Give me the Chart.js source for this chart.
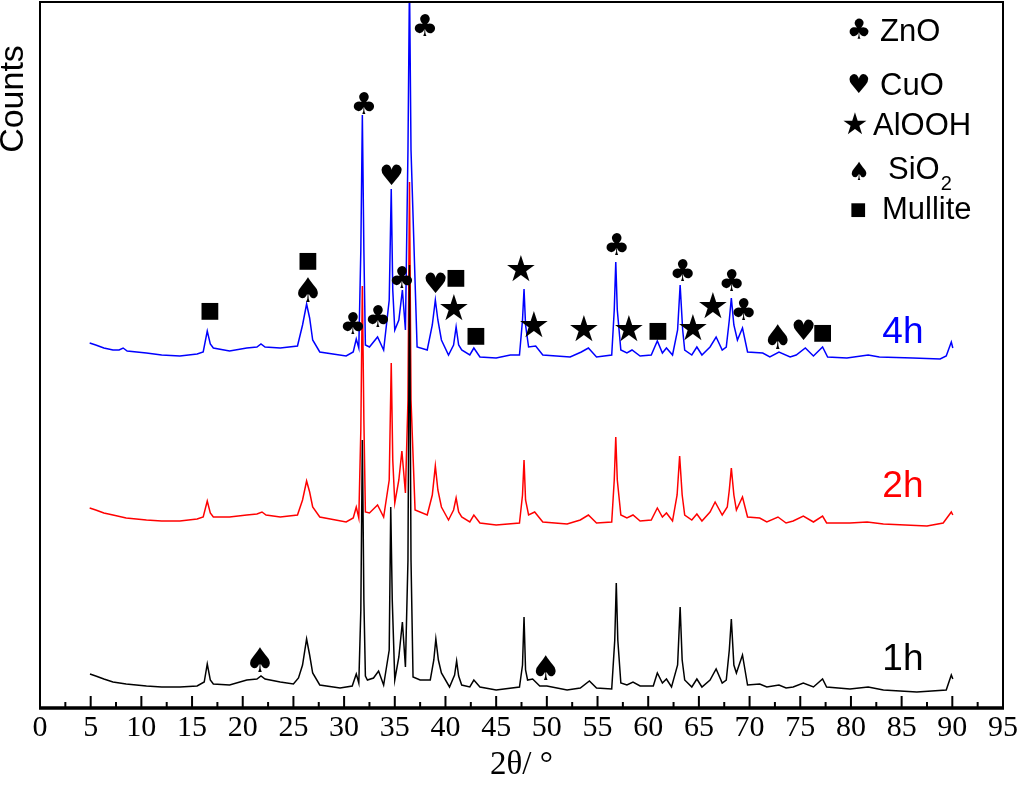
<!DOCTYPE html>
<html>
<head>
<meta charset="utf-8">
<script src="https://cdn.jsdelivr.net/npm/chart.js@4.4.1/dist/chart.umd.min.js"></script>
<style>
  html, body { margin: 0; padding: 0; background: #fff; }
  #wrap { width: 1020px; height: 787px; position: relative; }
</style>
</head>
<body>
<div id="wrap"><canvas id="c" width="1020" height="787"></canvas></div>
<script>
// ---------- DATA (2θ in degrees, counts in arbitrary units, curves stacked as plotted) ----------
const xTicks = [0,5,10,15,20,25,30,35,40,45,50,55,60,65,70,75,80,85,90,95];

const series1h = [[4.93,34],[5.5,32],[6.3,29],[7.2,26],[8.5,24],[10.5,22],[12,21],[13.8,21],[15.5,22],[16.2,26],[16.5,44],[16.8,28],[17.1,24],[18.7,23],[20.4,28],[21.4,29],[21.8,32],[22.2,29],[23.7,26],[25.0,24],[25.5,30],[25.9,43],[26.3,69],[26.6,53],[26.9,35],[27.6,23],[29.6,20],[30.8,22],[31.2,34],[31.45,25],[31.65,98],[31.8,268],[31.95,108],[32.1,32],[32.3,28],[32.9,30],[33.4,37],[33.9,23],[34.45,58],[34.6,201],[34.75,108],[35.0,28],[35.4,51],[35.75,86],[36.05,41],[36.3,148],[36.45,443],[36.6,148],[36.8,31],[37.5,28],[38.5,28],[38.85,48],[39.05,69],[39.3,48],[39.6,35],[40.4,21],[40.9,33],[41.1,47],[41.3,32],[41.6,23],[42.4,21],[42.8,28],[43.4,21],[45.0,18],[47.3,21],[47.6,43],[47.75,91],[47.9,38],[48.1,28],[48.6,29],[49.3,22],[50.0,22],[52.0,18],[53.3,20],[54.2,27],[54.9,20],[56.4,19],[56.7,68],[56.85,125],[57.0,68],[57.3,25],[57.9,23],[58.5,26],[59.2,22],[60.5,22],[60.9,35],[61.4,25],[61.8,29],[62.3,21],[62.9,43],[63.15,101],[63.35,48],[63.6,28],[64.3,21],[64.8,29],[65.3,21],[66.1,28],[66.7,39],[67.3,25],[67.7,28],[68.0,58],[68.2,89],[68.45,43],[68.7,35],[69.3,53],[69.8,23],[71.0,24],[71.7,21],[72.9,23],[73.6,20],[74.3,21],[75.3,25],[76.3,21],[77.2,29],[77.6,21],[79.9,19],[81.7,21],[83.2,18],[86.5,16],[89.4,18],[89.9,33],[90.05,29]];

const series2h = [[4.9,200],[5.5,198],[6.3,195],[7.2,193],[8.5,190],[10.5,188],[12,187],[13.8,187],[15.5,189],[16.1,191],[16.5,207],[16.8,195],[17.1,191],[18.7,191],[20.4,193],[21.4,194],[21.9,196],[22.3,193],[23.7,191],[25.4,193],[25.9,208],[26.3,227],[26.6,216],[26.9,201],[27.6,191],[30.2,186],[30.9,190],[31.2,201],[31.45,190],[31.65,278],[31.8,422],[31.95,288],[32.1,196],[32.5,195],[33.3,203],[33.9,191],[34.45,228],[34.65,345],[34.8,248],[35.0,205],[35.4,228],[35.7,257],[36.05,215],[36.3,308],[36.45,526],[36.6,308],[37.0,198],[38.2,193],[38.7,213],[39.0,242],[39.25,218],[39.6,201],[40.3,188],[40.8,198],[41.05,210],[41.3,196],[41.6,191],[42.4,186],[42.8,193],[43.4,185],[45.0,183],[47.3,185],[47.6,213],[47.75,248],[47.9,208],[48.2,193],[48.8,196],[49.6,186],[52.0,184],[53.3,188],[54.1,193],[54.9,185],[56.4,186],[56.65,228],[56.8,271],[56.95,228],[57.3,193],[57.9,190],[58.5,193],[59.2,187],[60.3,188],[60.9,200],[61.4,191],[61.8,195],[62.4,187],[62.85,213],[63.1,252],[63.35,213],[63.6,193],[64.3,188],[64.8,194],[65.3,187],[66.1,196],[66.6,206],[67.3,193],[67.8,201],[68.0,218],[68.2,240],[68.45,213],[68.7,198],[69.3,211],[69.8,191],[71.0,190],[71.7,186],[72.8,191],[73.6,185],[74.3,187],[75.3,192],[76.3,186],[77.2,192],[77.6,185],[79.9,185],[81.6,186],[83.2,184],[87.5,182],[89.1,185],[89.9,196],[90.05,193]];

const series4h = [[4.9,365],[5.5,363],[6.3,360],[7.2,358],[7.8,358],[8.2,360],[8.6,357],[10.5,355],[12,353],[13.8,352],[15.5,354],[16.1,356],[16.5,377],[16.8,364],[17.1,360],[18.7,357],[20.4,360],[21.4,361],[21.8,364],[22.2,361],[23.7,360],[25.4,362],[25.9,383],[26.3,404],[26.6,390],[26.9,368],[27.6,356],[30.2,352],[30.9,356],[31.2,369],[31.45,360],[31.65,458],[31.8,593],[31.95,458],[32.1,363],[32.5,361],[33.3,371],[33.9,358],[34.45,408],[34.65,519],[34.8,418],[35.0,378],[35.4,388],[35.75,418],[36.05,378],[36.3,558],[36.45,728],[36.6,558],[37.2,361],[38.2,358],[38.7,383],[39.0,408],[39.25,388],[39.6,368],[40.3,353],[40.8,363],[41.05,381],[41.3,363],[41.6,358],[42.4,353],[42.8,360],[43.4,351],[45.0,350],[46.4,353],[47.3,353],[47.6,388],[47.75,419],[47.9,383],[48.2,361],[48.9,362],[49.6,353],[52.3,351],[53.4,356],[54.1,360],[54.9,351],[56.4,353],[56.65,398],[56.8,446],[56.95,398],[57.3,358],[57.9,355],[58.4,358],[59.2,352],[60.3,353],[60.9,367],[61.4,355],[61.8,360],[62.4,353],[62.9,378],[63.15,423],[63.4,378],[63.6,358],[64.3,353],[64.8,361],[65.3,353],[66.1,361],[66.7,371],[67.3,358],[67.7,361],[68.0,388],[68.2,410],[68.45,383],[68.8,368],[69.3,380],[69.8,356],[71.3,355],[72.0,351],[72.9,356],[74.0,351],[74.6,353],[75.5,360],[76.3,352],[77.2,361],[77.7,351],[79.6,350],[81.7,353],[82.8,351],[86.1,350],[88.8,349],[89.4,352],[89.9,366],[90.05,360]];

// phase markers placed above peaks: symbol, 2θ, counts
const markerSym   = ['■','■','♠','♣','♣','♣','♥','♣','♣','♥','■','★','■','★','★','★','♣','★','■','♣','★','★','♣','♣','♠','♥','■','♠','♠'];
const markerTheta = [16.77,26.43,26.43,30.87,33.33,31.95,34.71,35.70,37.97,39.05,41.03,40.83,43.00,47.44,48.72,53.65,56.90,58.09,60.95,63.41,64.40,66.37,68.24,69.43,72.78,75.35,77.22,21.70,49.90];
const markerCount = [397,447,418,382,389,602,530,428,680,422,430,397,372,436,380,376,461,376,377,435,377,399,425,396,371,375,375,48,40];

// legend entries
const legendSym  = ['♣','♥','★','♠','■'];
const legendText = ['ZnO','CuO','AlOOH','SiO','Mullite'];
const legendSub  = ['','','','2',''];

// curve labels
const curveNames = ['1h','2h','4h'];
const curveColors = ['#000000','#ff0000','#0000ff'];
const curveLabelTheta = [83.1,83.1,83.1];
const curveLabelCount = [48,221,375];

// ---------- STYLE ----------
const symSize = {'♣':30,'♥':28,'★':36,'♠':34,'■':22};
const symDy   = {'♣':0,'♥':0,'★':0,'♠':3,'■':0};
const legendSymSize = {'♣':28,'♥':26,'★':30,'♠':25,'■':18};

const toXY = arr => arr.map(p => ({x:p[0], y:p[1]}));

const overlay = {
  id: 'overlay',
  afterDatasetsDraw(chart) {
    const {ctx, chartArea: a, scales: {x, y}} = chart;
    ctx.save();
    ctx.strokeStyle = '#000';
    ctx.fillStyle = '#000';
    // frame
    ctx.lineWidth = 2;
    ctx.strokeRect(a.left, a.top, a.right - a.left, a.bottom - a.top);
    ctx.lineWidth = 3.5;
    ctx.beginPath(); ctx.moveTo(a.left - 1, a.bottom); ctx.lineTo(a.right + 1, a.bottom); ctx.stroke();
    // inner ticks (major at labels, minor halfway)
    ctx.lineWidth = 2;
    for (let i = 0; i < xTicks.length; i++) {
      const px = x.getPixelForValue(xTicks[i]);
      ctx.beginPath(); ctx.moveTo(px, a.bottom); ctx.lineTo(px, a.bottom - 12); ctx.stroke();
      if (i < xTicks.length - 1) {
        const pm = x.getPixelForValue((xTicks[i] + xTicks[i+1]) / 2);
        ctx.beginPath(); ctx.moveTo(pm, a.bottom); ctx.lineTo(pm, a.bottom - 6); ctx.stroke();
      }
    }
    // markers
    ctx.textAlign = 'center';
    ctx.textBaseline = 'middle';
    for (let i = 0; i < markerSym.length; i++) {
      const s = markerSym[i];
      ctx.font = symSize[s] + 'px "DejaVu Sans"';
      ctx.fillText(s, x.getPixelForValue(markerTheta[i]), y.getPixelForValue(markerCount[i]) + symDy[s]);
    }
    // curve labels
    ctx.textAlign = 'left';
    ctx.font = '37px "Liberation Sans"';
    for (let i = 0; i < curveNames.length; i++) {
      ctx.fillStyle = curveColors[i];
      ctx.fillText(curveNames[i], x.getPixelForValue(curveLabelTheta[i]), y.getPixelForValue(curveLabelCount[i]));
    }
    // legend
    ctx.fillStyle = '#000';
    const legSymX = [859, 859, 855, 859, 858];
    const legY = [32, 86, 126, 170, 210];
    const legTextX = [880, 880, 873, 888, 882];
    for (let i = 0; i < legendSym.length; i++) {
      const s = legendSym[i];
      ctx.textAlign = 'center';
      ctx.font = legendSymSize[s] + 'px "DejaVu Sans"';
      ctx.fillText(s, legSymX[i], legY[i] + (s === '♠' ? 3 : 0));
      ctx.textAlign = 'left';
      ctx.font = '31px "Liberation Sans"';
      ctx.fillText(legendText[i], legTextX[i], legY[i]);
      if (legendSub[i]) {
        const w = ctx.measureText(legendText[i]).width;
        ctx.font = '20px "Liberation Sans"';
        ctx.fillText(legendSub[i], legTextX[i] + w + 1, legY[i] + 14);
      }
    }
    // y title
    ctx.save();
    ctx.translate(14, 99);
    ctx.rotate(-Math.PI / 2);
    ctx.textAlign = 'center';
    ctx.textBaseline = 'middle';
    ctx.font = '34px "Liberation Sans"';
    ctx.fillText('Counts', 0, 0);
    ctx.restore();
    ctx.restore();
  }
};

new Chart(document.getElementById('c'), {
  type: 'line',
  data: {
    datasets: [
      {label: '1h', data: toXY(series1h), borderColor: curveColors[0], borderWidth: 1.5, pointRadius: 0, tension: 0, fill: false},
      {label: '2h', data: toXY(series2h), borderColor: curveColors[1], borderWidth: 1.5, pointRadius: 0, tension: 0, fill: false},
      {label: '4h', data: toXY(series4h), borderColor: curveColors[2], borderWidth: 1.5, pointRadius: 0, tension: 0, fill: false}
    ]
  },
  options: {
    responsive: false,
    animation: false,
    devicePixelRatio: 1,
    layout: {padding: {top: 2, right: 16, left: 40, bottom: 0}},
    plugins: {legend: {display: false}, tooltip: {enabled: false}},
    scales: {
      x: {
        type: 'linear', min: 0, max: 95,
        afterBuildTicks(scale) { scale.ticks = xTicks.map(v => ({value: v})); },
        afterFit(scale) { scale.height = 79; },
        ticks: {autoSkip: false, maxRotation: 0, color: '#000', padding: 2,
                font: {family: '"Liberation Serif"', size: 30}},
        grid: {display: false, drawTicks: false},
        border: {display: false},
        title: {display: true, text: '2θ/ °', color: '#000', padding: {top: 0, bottom: 2},
                font: {family: '"Liberation Serif"', size: 33}}
      },
      y: {display: false, min: 0, max: 706}
    }
  },
  plugins: [overlay]
});
</script>
</body>
</html>
